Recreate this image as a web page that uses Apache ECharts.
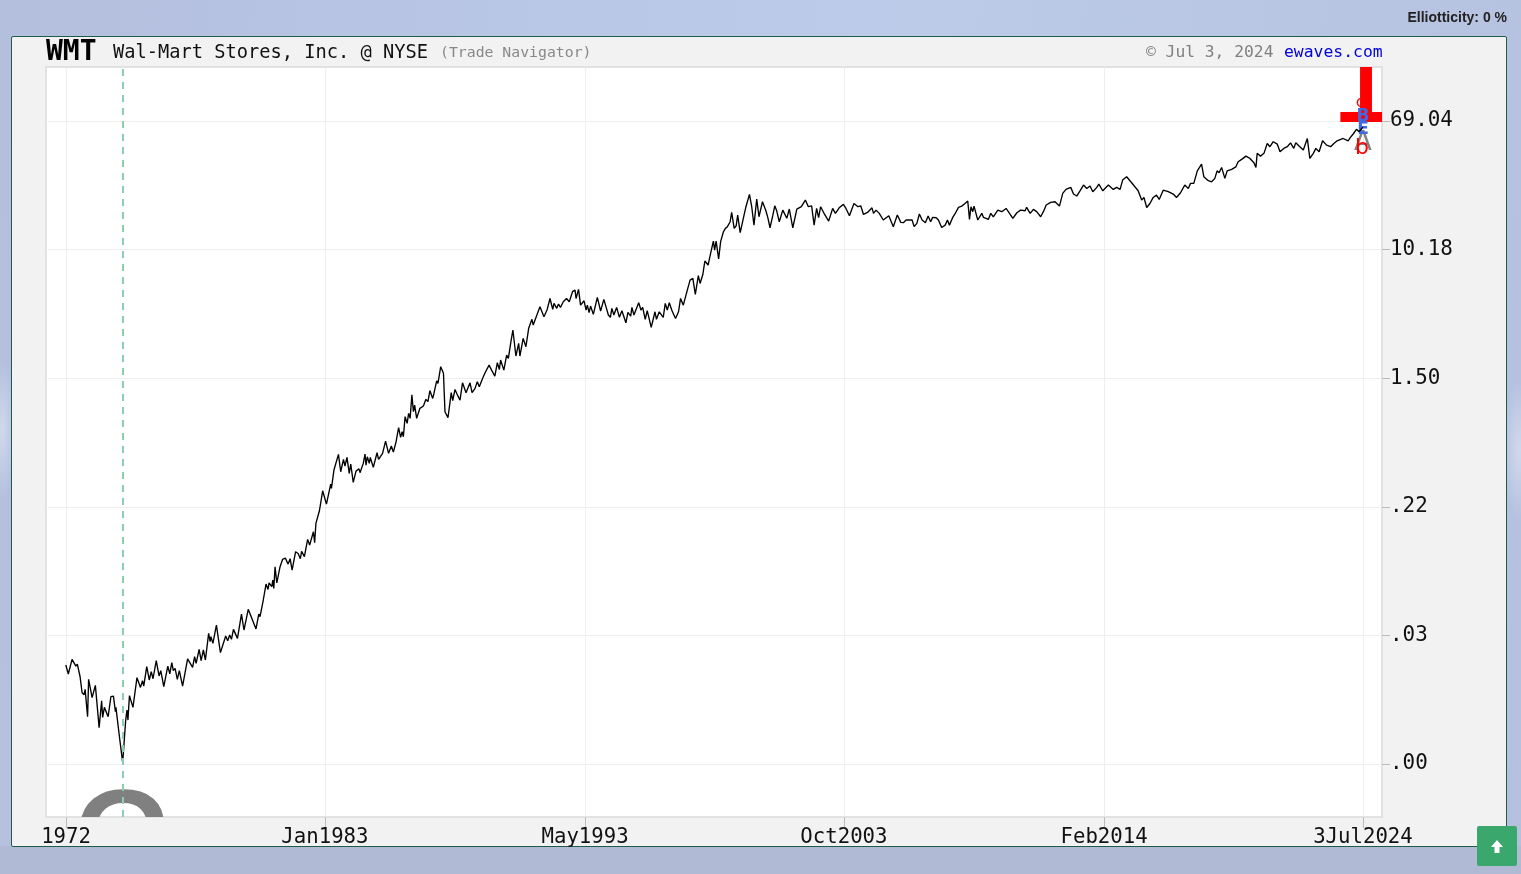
<!DOCTYPE html>
<html><head><meta charset="utf-8">
<style>
html,body{margin:0;padding:0;width:1521px;height:874px;overflow:hidden;
background:radial-gradient(ellipse 14px 70px at 2px 430px,rgba(235,242,250,.5),rgba(235,242,250,0)),radial-gradient(ellipse 16px 70px at 1519px 450px,rgba(235,242,250,.5),rgba(235,242,250,0)),linear-gradient(100deg,#b4bedd 0%,#b9c8e6 35%,#bccbe8 55%,#b4c0de 100%);}
#band{position:absolute;left:0;top:846px;width:1521px;height:28px;background:#b0bad4;}
#panel{position:absolute;left:11px;top:36px;width:1494px;height:809px;background:#f2f2f2;border:1px solid #1f5c47;border-radius:2px;}
#c{position:absolute;left:0;top:0;width:1521px;height:874px;}
</style></head><body>
<div id="band"></div><div id="panel"></div><div id="c"></div>
<script src="https://cdn.jsdelivr.net/npm/echarts@6/dist/echarts.min.js"></script>
<script>
// decimal years and log10(close)
const years = [
1972.74,1972.84,1972.99,1973.14,1973.20,1973.31,1973.39,1973.47,1973.51,1973.61,1973.65,1973.79,1973.92,1974.07,1974.17,1974.21,1974.28,1974.43,1974.54,1974.64,1974.72,1974.74,1974.88,1975.01,1975.13,1975.18,1975.22,1975.28,1975.42,1975.58,1975.72,1975.80,1975.85,1975.97,1976.07,1976.15,1976.22,1976.35,1976.46,1976.53,1976.65,1976.81,1976.89,1976.97,1977.03,1977.10,1977.19,1977.27,1977.40,1977.60,1977.80,1977.88,1977.94,1978.06,1978.14,1978.23,1978.31,1978.44,1978.50,1978.53,1978.61,1978.75,1978.91,1979.12,1979.20,1979.28,1979.35,1979.43,1979.59,1979.75,1979.85,1980.02,1980.33,1980.44,1980.49,1980.62,
1980.73,1980.81,1980.85,1980.96,1981.00,1981.04,1981.09,1981.16,1981.29,1981.39,1981.50,1981.61,1981.69,1981.77,1981.91,1982.01,1982.10,1982.15,1982.26,1982.39,1982.47,1982.62,1982.67,1982.72,1982.86,1982.99,1983.14,1983.31,1983.34,1983.44,1983.62,1983.71,1983.82,1983.88,1983.96,1984.05,1984.11,1984.21,1984.32,1984.44,1984.48,1984.61,1984.68,1984.72,1984.77,1984.85,1984.89,1985.01,1985.16,1985.22,1985.38,1985.50,1985.62,1985.73,1985.81,1985.92,1986.02,1986.10,1986.16,1986.21,1986.28,1986.36,1986.42,1986.48,1986.55,1986.61,1986.66,1986.74,1986.87,1987.01,1987.11,1987.19,1987.27,1987.38,1987.43,1987.54,1987.59,1987.70,1987.81,1987.87,1987.99,1988.12,1988.18,1988.27,1988.34,1988.39,1988.47,
1988.57,1988.71,1988.87,1988.95,1989.07,1989.16,1989.24,1989.37,1989.47,1989.63,1989.73,1989.86,1989.96,1990.04,1990.09,1990.22,1990.33,1990.40,1990.50,1990.58,1990.70,1990.81,1990.86,1990.99,1991.10,1991.21,1991.34,1991.39,1991.66,1991.82,1991.95,1992.06,1992.17,1992.22,1992.33,1992.40,1992.48,1992.59,1992.72,1992.83,1992.96,1993.06,1993.10,1993.20,1993.28,1993.42,1993.50,1993.55,1993.62,1993.68,1993.79,1993.95,1994.08,1994.21,1994.39,1994.47,1994.53,1994.61,1994.72,1994.83,1994.93,1995.09,1995.17,1995.28,1995.33,1995.41,1995.60,1995.69,1995.76,1995.86,1995.94,1996.10,1996.25,1996.31,1996.42,1996.58,1996.66,1996.74,1996.82,1996.93,1997.07,1997.19,1997.27,1997.38,1997.54,1997.65,
1997.76,1997.86,1997.98,1998.05,1998.16,1998.24,1998.37,1998.47,1998.58,1998.63,1998.69,1998.79,1998.87,1998.98,1999.06,1999.14,1999.25,1999.31,1999.41,1999.49,1999.55,1999.65,1999.80,1999.88,2000.02,2000.11,2000.20,2000.31,2000.40,2000.54,2000.68,2000.76,2000.84,2000.95,2001.03,2001.11,2001.21,2001.35,2001.51,2001.61,2001.75,2001.91,2002.09,2002.25,2002.37,2002.50,2002.60,2002.70,2002.78,2002.86,2003.02,2003.18,2003.34,2003.45,2003.60,2003.77,2003.87,2004.01,2004.19,2004.35,2004.46,2004.57,2004.73,2004.91,2004.97,2005.07,2005.20,2005.36,2005.58,2005.76,2005.92,2006.06,
2006.16,2006.27,2006.36,2006.43,2006.51,2006.59,2006.70,2006.80,2006.91,2007.04,2007.15,2007.25,2007.33,2007.47,2007.56,2007.69,2007.83,2007.92,2008.00,2008.13,2008.22,2008.36,2008.49,2008.62,2008.73,2008.80,2008.86,2008.93,2008.98,2009.13,2009.29,2009.36,2009.55,2009.65,2009.75,2009.93,2010.09,2010.26,2010.35,2010.53,2010.69,2010.84,2011.02,2011.08,2011.22,2011.35,2011.48,2011.55,2011.64,2011.75,2011.86,2012.04,2012.21,2012.39,2012.52,2012.65,2012.84,2012.95,2013.08,2013.21,2013.35,2013.48,2013.61,2013.72,2013.88,2013.96,2014.12,2014.34,2014.54,2014.67,2014.81,2014.91,2015.07,2015.27,
2015.40,2015.53,2015.60,2015.67,2015.76,2015.87,2016.00,2016.13,2016.26,2016.37,2016.53,2016.73,2016.93,2017.06,2017.22,2017.39,2017.53,2017.62,2017.75,2017.89,2018.06,2018.15,2018.33,2018.46,2018.59,2018.68,2018.76,2018.86,2018.99,2019.08,2019.26,2019.43,2019.52,2019.66,2019.83,2019.99,2020.15,2020.23,2020.28,2020.41,2020.55,2020.68,2020.79,2020.92,2021.08,2021.19,2021.34,2021.48,2021.61,2021.74,2021.82,2021.98,2022.12,2022.28,2022.38,2022.52,2022.62,2022.75,2022.89,2023.05,2023.21,2023.34,2023.47,2023.71,2023.91,2024.00,2024.11,2024.24,2024.35,2024.50];
const log10Close = [
-1.677,-1.735,-1.641,-1.684,-1.671,-1.753,-1.856,-1.869,-1.835,-2.011,-1.770,-1.888,-1.809,-2.082,-1.908,-2.016,-1.951,-2.011,-1.882,-1.878,-1.979,-1.951,-2.141,-2.309,-2.033,-1.968,-2.033,-1.875,-1.951,-1.759,-1.822,-1.779,-1.813,-1.688,-1.774,-1.720,-1.766,-1.649,-1.748,-1.714,-1.817,-1.684,-1.735,-1.662,-1.714,-1.699,-1.770,-1.714,-1.813,-1.638,-1.692,-1.623,-1.666,-1.576,-1.649,-1.580,-1.645,-1.473,-1.526,-1.494,-1.537,-1.419,-1.597,-1.490,-1.520,-1.483,-1.511,-1.447,-1.505,-1.348,-1.451,-1.317,-1.444,-1.348,-1.365,-1.257,
-1.154,-1.189,-1.146,-1.171,-1.128,-1.182,-1.042,-1.146,-1.042,-0.995,-0.986,-1.025,-0.990,-1.064,-0.945,-0.956,-0.990,-0.943,-0.977,-0.865,-0.902,-0.816,-0.887,-0.762,-0.680,-0.551,-0.637,-0.508,-0.536,-0.417,-0.316,-0.428,-0.348,-0.391,-0.335,-0.439,-0.378,-0.497,-0.424,-0.409,-0.434,-0.374,-0.314,-0.385,-0.331,-0.374,-0.335,-0.400,-0.305,-0.348,-0.309,-0.230,-0.309,-0.262,-0.301,-0.234,-0.143,-0.206,-0.169,-0.202,-0.072,-0.115,-0.051,-0.083,0.070,-0.040,0.003,-0.083,-0.018,-0.003,0.040,0.025,0.096,0.046,0.078,0.160,0.143,0.251,0.208,-0.040,-0.079,0.083,0.031,0.104,0.078,0.089,0.035,
0.147,0.083,0.147,0.083,0.111,0.154,0.121,0.175,0.212,0.261,0.229,0.190,0.277,0.233,0.294,0.229,0.326,0.305,0.412,0.488,0.320,0.402,0.320,0.434,0.380,0.499,0.557,0.520,0.639,0.574,0.621,0.692,0.621,0.660,0.628,0.656,0.634,0.671,0.692,0.671,0.736,0.746,0.692,0.751,0.649,0.677,0.617,0.649,0.600,0.643,0.589,0.699,0.611,0.686,0.585,0.570,0.628,0.585,0.634,0.570,0.613,0.535,0.602,0.578,0.634,0.585,0.664,0.617,0.634,0.557,0.613,0.505,0.606,0.557,0.606,0.570,0.660,0.617,0.664,0.613,0.563,0.606,0.692,0.649,0.746,0.811,
0.822,0.718,0.839,0.789,0.847,0.934,0.908,0.983,1.063,1.005,1.063,0.947,1.059,1.123,1.145,1.156,1.188,1.248,1.145,1.162,1.231,1.117,1.227,1.285,1.365,1.285,1.166,1.334,1.220,1.317,1.257,1.210,1.149,1.227,1.291,1.257,1.188,1.263,1.210,1.270,1.149,1.270,1.285,1.328,1.285,1.291,1.166,1.274,1.214,1.285,1.235,1.192,1.274,1.242,1.278,1.300,1.274,1.227,1.306,1.285,1.291,1.235,1.248,1.278,1.242,1.263,1.242,1.199,1.227,1.156,1.231,1.184,
1.182,1.199,1.199,1.210,1.199,1.156,1.177,1.238,1.199,1.182,1.225,1.188,1.216,1.214,1.199,1.151,1.166,1.199,1.166,1.216,1.238,1.281,1.289,1.306,1.322,1.203,1.285,1.253,1.289,1.199,1.242,1.216,1.203,1.242,1.220,1.263,1.253,1.274,1.253,1.210,1.246,1.263,1.259,1.281,1.242,1.268,1.253,1.259,1.220,1.253,1.296,1.313,1.317,1.289,1.371,1.397,1.410,1.367,1.354,1.388,1.425,1.403,1.419,1.382,1.410,1.431,1.388,1.425,1.397,1.410,1.397,1.457,1.479,1.440,
1.414,1.388,1.382,1.328,1.345,1.280,1.306,1.345,1.360,1.332,1.392,1.382,1.367,1.345,1.375,1.425,1.403,1.436,1.436,1.517,1.560,1.479,1.453,1.446,1.468,1.517,1.505,1.539,1.468,1.517,1.526,1.543,1.576,1.591,1.612,1.597,1.569,1.539,1.630,1.612,1.630,1.694,1.673,1.705,1.690,1.640,1.662,1.673,1.698,1.662,1.698,1.673,1.651,1.726,1.597,1.630,1.662,1.640,1.711,1.683,1.673,1.694,1.711,1.726,1.711,1.733,1.755,1.785,1.770,1.800];
const xTickValues = [1972.75,1983.08,1993.46,2003.79,2014.17,2024.50];
const xTickLabels = ['1972','Jan1983','May1993','Oct2003','Feb2014','3Jul2024'];
const yTickValues = [0.00482,0.0328,0.2208,1.504,10.18,69.04];
const lowYear = 1975.02;
// wave labels: text, year, price
const waveTexts  = ['2','1','A','b','B','E','c'];
const waveYears  = [1975.02,2024.54,2024.50,2024.46,2024.50,2024.50,2024.39];
const wavePrices = [0.00482,69.04,49.5,46.2,74,60.4,90];

const waveStyle = {
  '2':{size:190,color:'#808080',align:'center',base:'top',dy:11,family:'"Liberation Sans",sans-serif'},
  '1':{size:122,color:'#ff0000',align:'center',base:'bottom',dy:30},
  'A':{size:26,color:'#808080',align:'center',base:'middle',dy:0},
  'b':{size:22,color:'#ff0000',align:'center',base:'middle',dy:0},
  'B':{size:17,color:'#4169e1',align:'center',base:'middle',dy:0,weight:'bold'},
  'E':{size:17,color:'#4169e1',align:'center',base:'middle',dy:0,weight:'bold'},
  'c':{size:16,color:'#ff0000',align:'center',base:'middle',dy:0}
};
const mono = '"DejaVu Sans Mono",monospace';
const chart = echarts.init(document.getElementById('c'),null,{renderer:'canvas'});
const closes = log10Close.map(v=>Math.pow(10,v));
chart.setOption({
  animation:false,
  backgroundColor:'transparent',
  title:[
    {text:'WMT',left:41,top:34,textStyle:{fontFamily:mono,fontSize:28,fontWeight:'bold',color:'#000'}},
    {text:'Wal-Mart Stores, Inc. @ NYSE',left:108,top:39,textStyle:{fontFamily:mono,fontSize:18.7,fontWeight:'normal',color:'#111'}},
    {text:'(Trade Navigator)',left:435,top:41,textStyle:{fontFamily:mono,fontSize:14.8,fontWeight:'normal',color:'#888'}},
    {text:'© Jul 3, 2024',left:1141,top:40,textStyle:{fontFamily:mono,fontSize:16.3,fontWeight:'normal',color:'#808080'}},
    {text:'ewaves.com',left:1279,top:40,textStyle:{fontFamily:mono,fontSize:16.4,fontWeight:'normal',color:'#0000e0'}},
    {text:'Elliotticity: 0 %',right:9,top:6,textStyle:{fontFamily:'"Liberation Sans",Arial,sans-serif',fontSize:14,fontWeight:'bold',color:'#222'}}
  ],
  grid:{left:46,right:139,top:67,bottom:57,show:true,backgroundColor:'#fff',borderColor:'#e2e2e2',borderWidth:2},
  xAxis:{type:'value',min:1971.95,max:2025.26,
    axisLine:{show:false},
    axisTick:{show:true,customValues:xTickValues,length:11,lineStyle:{color:'#bbbbbb'}},
    axisLabel:{show:true,customValues:xTickValues,margin:10,hideOverlap:false,showMinLabel:true,showMaxLabel:true,
      fontFamily:mono,fontSize:20.7,color:'#111',
      formatter:v=>{const i=xTickValues.findIndex(t=>Math.abs(t-v)<0.01);return i>=0?xTickLabels[i]:'';}},
    splitLine:{show:true,lineStyle:{color:'#eeeeee'}}},
  yAxis:{type:'log',position:'right',min:0.00219,max:154.2,logBase:10,
    axisLine:{show:false},
    axisTick:{show:true,customValues:yTickValues,length:8,lineStyle:{color:'#bbbbbb'}},
    axisLabel:{show:true,customValues:yTickValues,margin:8,hideOverlap:false,showMinLabel:true,showMaxLabel:true,
      fontFamily:mono,fontSize:20.9,color:'#111',
      formatter:v=>{const s=Number(v).toFixed(2);return s.startsWith('0.')?s.slice(1):s;}},
    splitLine:{show:true,lineStyle:{color:'#eeeeee'}},minorSplitLine:{show:false}},
  series:[
    {type:'custom',coordinateSystem:'cartesian2d',clip:true,z:2,silent:true,
     data:waveTexts.map((t,i)=>[waveYears[i],wavePrices[i],i]),
     encode:{x:0,y:1},
     renderItem:(p,api)=>{
       const i=api.value(2),t=waveTexts[i],s=waveStyle[t];
       const c=api.coord([api.value(0),api.value(1)]);
       return {type:'text',x:c[0],y:c[1]+s.dy,z2:t==='2'||t==='1'?1:5,
         style:{text:t,fill:s.color,align:s.align,verticalAlign:s.base,
           font:(s.weight||'normal')+' '+s.size+'px '+(s.family||'"DejaVu Sans",sans-serif')}};
     }},
    {type:'line',data:years.map((y,i)=>[y,closes[i]]),showSymbol:false,symbol:'none',sampling:'none',z:3,silent:true,
     lineStyle:{color:'#000',width:1.35},
     markLine:{silent:true,symbol:'none',label:{show:false},animation:false,
       lineStyle:{color:'#8fcdb0',type:[7,6],width:2},data:[{xAxis:lowYear}]}}
  ],
  graphic:[
    {type:'rect',shape:{x:1477,y:826,width:40,height:40,r:2},style:{fill:'#3aa76d'},z:100,silent:true},
    {type:'polygon',shape:{points:[[1497,840],[1503,847],[1499.5,847],[1499.5,853],[1494.5,853],[1494.5,847],[1491,847]]},style:{fill:'#fff'},z:101,silent:true}
  ]
});
</script></body></html>
